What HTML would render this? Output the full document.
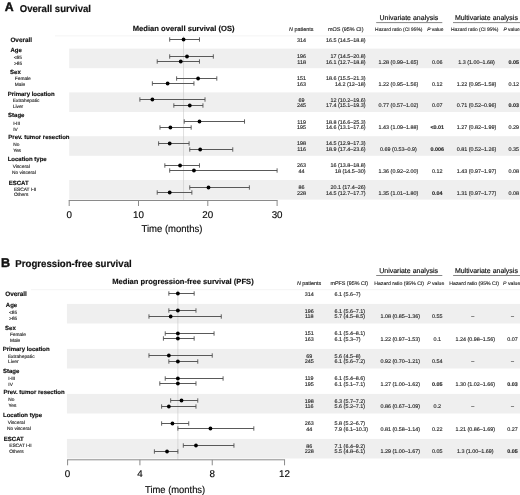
<!DOCTYPE html>
<html><head><meta charset="utf-8"><title>Forest plot</title>
<style>
html,body{margin:0;padding:0;background:#fff;}
body{width:520px;height:495px;overflow:hidden;}
svg{display:block;font-family:"Liberation Sans", sans-serif;text-rendering:geometricPrecision;}
</style></head>
<body>
<svg width="520" height="495" viewBox="0 0 520 495">
<rect x="0" y="0" width="520" height="495" fill="#fff"/>
<text x="4.70" y="10.90" font-size="12.3" font-weight="bold" fill="#111" stroke="#111" stroke-width="0.45">A</text>
<text x="19.80" y="11.60" font-size="10" font-weight="bold" fill="#111" stroke="#111" stroke-width="0.2" textLength="71.2" lengthAdjust="spacingAndGlyphs">Overall survival</text>
<rect x="69.20" y="48.60" width="450.80" height="19.60" fill="#efefef"/>
<rect x="69.20" y="92.40" width="450.80" height="19.60" fill="#efefef"/>
<rect x="69.20" y="136.20" width="450.80" height="19.60" fill="#efefef"/>
<rect x="69.20" y="180.00" width="450.80" height="19.60" fill="#efefef"/>
<line x1="55.00" y1="35.90" x2="520.00" y2="35.90" stroke="#f4f4f4" stroke-width="1"/>
<text x="132.80" y="30.50" font-size="7.6" font-weight="bold" fill="#111" stroke="#111" stroke-width="0.15">Median overall survival (OS)</text>
<line x1="183.55" y1="36.00" x2="183.55" y2="200.50" stroke="#c8c8c8" stroke-width="0.6"/>
<line x1="68.70" y1="200.50" x2="277.60" y2="200.50" stroke="#8a8a8a" stroke-width="1"/>
<line x1="69.20" y1="200.50" x2="69.20" y2="206.00" stroke="#8a8a8a" stroke-width="1"/>
<text x="69.20" y="217.70" font-size="9.8" text-anchor="middle" stroke="#222" stroke-width="0.15">0</text>
<line x1="138.50" y1="200.50" x2="138.50" y2="206.00" stroke="#8a8a8a" stroke-width="1"/>
<text x="138.50" y="217.70" font-size="9.8" text-anchor="middle" stroke="#222" stroke-width="0.15">10</text>
<line x1="207.80" y1="200.50" x2="207.80" y2="206.00" stroke="#8a8a8a" stroke-width="1"/>
<text x="207.80" y="217.70" font-size="9.8" text-anchor="middle" stroke="#222" stroke-width="0.15">20</text>
<line x1="277.10" y1="200.50" x2="277.10" y2="206.00" stroke="#8a8a8a" stroke-width="1"/>
<text x="277.10" y="217.70" font-size="9.8" text-anchor="middle" stroke="#222" stroke-width="0.15">30</text>
<text x="141.50" y="232.40" font-size="10" textLength="61.0" lengthAdjust="spacingAndGlyphs" stroke="#222" stroke-width="0.15">Time (months)</text>
<text x="289.00" y="30.60" font-size="5.45" fill="#2a2a2a" stroke="#2a2a2a" stroke-width="0.15"><tspan font-style="italic">N</tspan> patients</text>
<text x="328.10" y="30.60" font-size="5.45" fill="#2a2a2a" stroke="#2a2a2a" stroke-width="0.15">mOS (95% CI)</text>
<text x="379.50" y="20.10" font-size="7" stroke="#222" stroke-width="0.15">Univariate analysis</text>
<line x1="376.20" y1="22.60" x2="442.30" y2="22.60" stroke="#666" stroke-width="0.8"/>
<text x="454.90" y="20.10" font-size="7" stroke="#222" stroke-width="0.15">Multivariate analysis</text>
<line x1="453.00" y1="22.60" x2="520.00" y2="22.60" stroke="#666" stroke-width="0.8"/>
<text x="375.10" y="30.60" font-size="4.9" fill="#2a2a2a" stroke="#2a2a2a" stroke-width="0.15">Hazard ratio (CI 95%)</text>
<text x="427.20" y="30.60" font-size="4.9" fill="#2a2a2a" stroke="#2a2a2a" stroke-width="0.15"><tspan font-style="italic">P</tspan> value</text>
<text x="451.00" y="30.60" font-size="4.9" fill="#2a2a2a" stroke="#2a2a2a" stroke-width="0.15">Hazard ratio (CI 95%)</text>
<text x="503.50" y="30.60" font-size="4.9" fill="#2a2a2a" stroke="#2a2a2a" stroke-width="0.15"><tspan font-style="italic">P</tspan> value</text>
<text x="10.40" y="41.50" font-size="6.4" font-weight="bold" fill="#111" stroke="#111" stroke-width="0.15">Overall</text>
<line x1="169.69" y1="39.50" x2="199.48" y2="39.50" stroke="#505050" stroke-width="0.95"/>
<line x1="169.69" y1="37.30" x2="169.69" y2="41.70" stroke="#505050" stroke-width="0.9"/>
<line x1="199.48" y1="37.30" x2="199.48" y2="41.70" stroke="#505050" stroke-width="0.9"/>
<circle cx="183.55" cy="39.50" r="1.9" fill="#000"/>
<text x="301.60" y="41.60" font-size="5.4" text-anchor="middle" fill="#2a2a2a" stroke="#2a2a2a" stroke-width="0.15">314</text>
<text x="365.60" y="41.60" font-size="5.4" text-anchor="end" fill="#2a2a2a" stroke="#2a2a2a" stroke-width="0.15">16.5 (14.5–18.8)</text>
<text x="10.40" y="51.90" font-size="6.0" font-weight="bold" fill="#111" stroke="#111" stroke-width="0.15">Age</text>
<text x="13.80" y="58.80" font-size="4.8" fill="#2a2a2a" stroke="#2a2a2a" stroke-width="0.15">&lt;65</text>
<line x1="169.69" y1="56.50" x2="213.34" y2="56.50" stroke="#505050" stroke-width="0.95"/>
<line x1="169.69" y1="54.30" x2="169.69" y2="58.70" stroke="#505050" stroke-width="0.9"/>
<line x1="213.34" y1="54.30" x2="213.34" y2="58.70" stroke="#505050" stroke-width="0.9"/>
<circle cx="187.01" cy="56.50" r="1.9" fill="#000"/>
<text x="301.60" y="58.20" font-size="5.4" text-anchor="middle" fill="#2a2a2a" stroke="#2a2a2a" stroke-width="0.15">196</text>
<text x="365.60" y="58.20" font-size="5.4" text-anchor="end" fill="#2a2a2a" stroke="#2a2a2a" stroke-width="0.15">17 (14.5–20.8)</text>
<text x="14.00" y="64.80" font-size="4.8" fill="#2a2a2a" stroke="#2a2a2a" stroke-width="0.15">&gt;65</text>
<line x1="157.21" y1="61.50" x2="199.48" y2="61.50" stroke="#505050" stroke-width="0.95"/>
<line x1="157.21" y1="59.30" x2="157.21" y2="63.70" stroke="#505050" stroke-width="0.9"/>
<line x1="199.48" y1="59.30" x2="199.48" y2="63.70" stroke="#505050" stroke-width="0.9"/>
<circle cx="180.77" cy="61.50" r="1.9" fill="#000"/>
<text x="301.60" y="63.80" font-size="5.4" text-anchor="middle" fill="#2a2a2a" stroke="#2a2a2a" stroke-width="0.15">118</text>
<text x="365.60" y="63.80" font-size="5.4" text-anchor="end" fill="#2a2a2a" stroke="#2a2a2a" stroke-width="0.15">16.1 (12.7–18.8)</text>
<text x="398.40" y="63.80" font-size="5.4" text-anchor="middle" fill="#2a2a2a" stroke="#2a2a2a" stroke-width="0.15">1.28 (0.99–1.65)</text>
<text x="437.30" y="63.80" font-size="5.4" text-anchor="middle" fill="#2a2a2a" stroke="#2a2a2a" stroke-width="0.15">0.06</text>
<text x="476.50" y="63.80" font-size="5.4" text-anchor="middle" fill="#2a2a2a" stroke="#2a2a2a" stroke-width="0.15">1.3 (1.00–1.68)</text>
<text x="513.70" y="63.80" font-size="5.4" font-weight="bold" text-anchor="middle" fill="#2a2a2a" stroke="#2a2a2a" stroke-width="0.15">0.05</text>
<text x="10.10" y="74.20" font-size="6.0" font-weight="bold" fill="#111" stroke="#111" stroke-width="0.15">Sex</text>
<text x="14.80" y="80.40" font-size="4.8" fill="#2a2a2a" stroke="#2a2a2a" stroke-width="0.15">Female</text>
<line x1="176.62" y1="78.50" x2="216.81" y2="78.50" stroke="#505050" stroke-width="0.95"/>
<line x1="176.62" y1="76.30" x2="176.62" y2="80.70" stroke="#505050" stroke-width="0.9"/>
<line x1="216.81" y1="76.30" x2="216.81" y2="80.70" stroke="#505050" stroke-width="0.9"/>
<circle cx="198.10" cy="78.50" r="1.9" fill="#000"/>
<text x="301.60" y="80.00" font-size="5.4" text-anchor="middle" fill="#2a2a2a" stroke="#2a2a2a" stroke-width="0.15">151</text>
<text x="365.60" y="80.00" font-size="5.4" text-anchor="end" fill="#2a2a2a" stroke="#2a2a2a" stroke-width="0.15">18.6 (15.5–21.3)</text>
<text x="14.80" y="85.90" font-size="4.8" fill="#2a2a2a" stroke="#2a2a2a" stroke-width="0.15">Male</text>
<line x1="152.36" y1="83.50" x2="193.94" y2="83.50" stroke="#505050" stroke-width="0.95"/>
<line x1="152.36" y1="81.30" x2="152.36" y2="85.70" stroke="#505050" stroke-width="0.9"/>
<line x1="193.94" y1="81.30" x2="193.94" y2="85.70" stroke="#505050" stroke-width="0.9"/>
<circle cx="167.61" cy="83.50" r="1.9" fill="#000"/>
<text x="301.60" y="85.60" font-size="5.4" text-anchor="middle" fill="#2a2a2a" stroke="#2a2a2a" stroke-width="0.15">163</text>
<text x="365.60" y="85.60" font-size="5.4" text-anchor="end" fill="#2a2a2a" stroke="#2a2a2a" stroke-width="0.15">14.2 (12–18)</text>
<text x="398.40" y="85.60" font-size="5.4" text-anchor="middle" fill="#2a2a2a" stroke="#2a2a2a" stroke-width="0.15">1.22 (0.95–1.56)</text>
<text x="437.30" y="85.60" font-size="5.4" text-anchor="middle" fill="#2a2a2a" stroke="#2a2a2a" stroke-width="0.15">0.12</text>
<text x="476.50" y="85.60" font-size="5.4" text-anchor="middle" fill="#2a2a2a" stroke="#2a2a2a" stroke-width="0.15">1.22 (0.95–1.58)</text>
<text x="513.70" y="85.60" font-size="5.4" text-anchor="middle" fill="#2a2a2a" stroke="#2a2a2a" stroke-width="0.15">0.12</text>
<text x="7.70" y="96.00" font-size="6.0" font-weight="bold" fill="#111" stroke="#111" stroke-width="0.15">Primary location</text>
<text x="12.80" y="102.00" font-size="4.8" fill="#2a2a2a" stroke="#2a2a2a" stroke-width="0.15">Extrahepatic</text>
<line x1="139.89" y1="99.50" x2="205.03" y2="99.50" stroke="#505050" stroke-width="0.95"/>
<line x1="139.89" y1="97.30" x2="139.89" y2="101.70" stroke="#505050" stroke-width="0.9"/>
<line x1="205.03" y1="97.30" x2="205.03" y2="101.70" stroke="#505050" stroke-width="0.9"/>
<circle cx="152.36" cy="99.50" r="1.9" fill="#000"/>
<text x="301.60" y="101.80" font-size="5.4" text-anchor="middle" fill="#2a2a2a" stroke="#2a2a2a" stroke-width="0.15">69</text>
<text x="365.60" y="101.80" font-size="5.4" text-anchor="end" fill="#2a2a2a" stroke="#2a2a2a" stroke-width="0.15">12 (10.2–19.6)</text>
<text x="12.80" y="108.00" font-size="4.8" fill="#2a2a2a" stroke="#2a2a2a" stroke-width="0.15">Liver</text>
<line x1="173.84" y1="105.50" x2="202.95" y2="105.50" stroke="#505050" stroke-width="0.95"/>
<line x1="173.84" y1="103.30" x2="173.84" y2="107.70" stroke="#505050" stroke-width="0.9"/>
<line x1="202.95" y1="103.30" x2="202.95" y2="107.70" stroke="#505050" stroke-width="0.9"/>
<circle cx="189.78" cy="105.50" r="1.9" fill="#000"/>
<text x="301.60" y="107.40" font-size="5.4" text-anchor="middle" fill="#2a2a2a" stroke="#2a2a2a" stroke-width="0.15">245</text>
<text x="365.60" y="107.40" font-size="5.4" text-anchor="end" fill="#2a2a2a" stroke="#2a2a2a" stroke-width="0.15">17.4 (15.1–19.3)</text>
<text x="398.40" y="107.40" font-size="5.4" text-anchor="middle" fill="#2a2a2a" stroke="#2a2a2a" stroke-width="0.15">0.77 (0.57–1.02)</text>
<text x="437.30" y="107.40" font-size="5.4" text-anchor="middle" fill="#2a2a2a" stroke="#2a2a2a" stroke-width="0.15">0.07</text>
<text x="476.50" y="107.40" font-size="5.4" text-anchor="middle" fill="#2a2a2a" stroke="#2a2a2a" stroke-width="0.15">0.71 (0.52–0.96)</text>
<text x="513.70" y="107.40" font-size="5.4" font-weight="bold" text-anchor="middle" fill="#2a2a2a" stroke="#2a2a2a" stroke-width="0.15">0.03</text>
<text x="8.10" y="117.40" font-size="6.0" font-weight="bold" fill="#111" stroke="#111" stroke-width="0.15">Stage</text>
<text x="13.20" y="124.50" font-size="4.8" fill="#2a2a2a" stroke="#2a2a2a" stroke-width="0.15">I-III</text>
<line x1="184.24" y1="121.50" x2="244.53" y2="121.50" stroke="#505050" stroke-width="0.95"/>
<line x1="184.24" y1="119.30" x2="184.24" y2="123.70" stroke="#505050" stroke-width="0.9"/>
<line x1="244.53" y1="119.30" x2="244.53" y2="123.70" stroke="#505050" stroke-width="0.9"/>
<circle cx="199.48" cy="121.50" r="1.9" fill="#000"/>
<text x="301.60" y="123.60" font-size="5.4" text-anchor="middle" fill="#2a2a2a" stroke="#2a2a2a" stroke-width="0.15">119</text>
<text x="365.60" y="123.60" font-size="5.4" text-anchor="end" fill="#2a2a2a" stroke="#2a2a2a" stroke-width="0.15">18.8 (16.6–25.3)</text>
<text x="13.20" y="130.50" font-size="4.8" fill="#2a2a2a" stroke="#2a2a2a" stroke-width="0.15">IV</text>
<line x1="159.98" y1="127.50" x2="191.17" y2="127.50" stroke="#505050" stroke-width="0.95"/>
<line x1="159.98" y1="125.30" x2="159.98" y2="129.70" stroke="#505050" stroke-width="0.9"/>
<line x1="191.17" y1="125.30" x2="191.17" y2="129.70" stroke="#505050" stroke-width="0.9"/>
<circle cx="170.38" cy="127.50" r="1.9" fill="#000"/>
<text x="301.60" y="129.20" font-size="5.4" text-anchor="middle" fill="#2a2a2a" stroke="#2a2a2a" stroke-width="0.15">195</text>
<text x="365.60" y="129.20" font-size="5.4" text-anchor="end" fill="#2a2a2a" stroke="#2a2a2a" stroke-width="0.15">14.6 (13.1–17.6)</text>
<text x="398.40" y="129.20" font-size="5.4" text-anchor="middle" fill="#2a2a2a" stroke="#2a2a2a" stroke-width="0.15">1.43 (1.09–1.88)</text>
<text x="437.30" y="129.20" font-size="5.4" font-weight="bold" text-anchor="middle" fill="#2a2a2a" stroke="#2a2a2a" stroke-width="0.15">&lt;0.01</text>
<text x="476.50" y="129.20" font-size="5.4" text-anchor="middle" fill="#2a2a2a" stroke="#2a2a2a" stroke-width="0.15">1.27 (0.82–1.99)</text>
<text x="513.70" y="129.20" font-size="5.4" text-anchor="middle" fill="#2a2a2a" stroke="#2a2a2a" stroke-width="0.15">0.29</text>
<text x="8.30" y="138.90" font-size="6.0" font-weight="bold" fill="#111" stroke="#111" stroke-width="0.15">Prev. tumor resection</text>
<text x="13.20" y="146.00" font-size="4.8" fill="#2a2a2a" stroke="#2a2a2a" stroke-width="0.15">No</text>
<line x1="158.60" y1="143.50" x2="189.09" y2="143.50" stroke="#505050" stroke-width="0.95"/>
<line x1="158.60" y1="141.30" x2="158.60" y2="145.70" stroke="#505050" stroke-width="0.9"/>
<line x1="189.09" y1="141.30" x2="189.09" y2="145.70" stroke="#505050" stroke-width="0.9"/>
<circle cx="169.69" cy="143.50" r="1.9" fill="#000"/>
<text x="301.60" y="145.40" font-size="5.4" text-anchor="middle" fill="#2a2a2a" stroke="#2a2a2a" stroke-width="0.15">198</text>
<text x="365.60" y="145.40" font-size="5.4" text-anchor="end" fill="#2a2a2a" stroke="#2a2a2a" stroke-width="0.15">14.5 (12.9–17.3)</text>
<text x="13.20" y="151.80" font-size="4.8" fill="#2a2a2a" stroke="#2a2a2a" stroke-width="0.15">Yes</text>
<line x1="189.78" y1="149.50" x2="232.75" y2="149.50" stroke="#505050" stroke-width="0.95"/>
<line x1="189.78" y1="147.30" x2="189.78" y2="151.70" stroke="#505050" stroke-width="0.9"/>
<line x1="232.75" y1="147.30" x2="232.75" y2="151.70" stroke="#505050" stroke-width="0.9"/>
<circle cx="200.18" cy="149.50" r="1.9" fill="#000"/>
<text x="301.60" y="151.00" font-size="5.4" text-anchor="middle" fill="#2a2a2a" stroke="#2a2a2a" stroke-width="0.15">116</text>
<text x="365.60" y="151.00" font-size="5.4" text-anchor="end" fill="#2a2a2a" stroke="#2a2a2a" stroke-width="0.15">18.9 (17.4–23.6)</text>
<text x="398.40" y="151.00" font-size="5.4" text-anchor="middle" fill="#2a2a2a" stroke="#2a2a2a" stroke-width="0.15">0.69 (0.53–0.9)</text>
<text x="437.30" y="151.00" font-size="5.4" font-weight="bold" text-anchor="middle" fill="#2a2a2a" stroke="#2a2a2a" stroke-width="0.15">0.006</text>
<text x="476.50" y="151.00" font-size="5.4" text-anchor="middle" fill="#2a2a2a" stroke="#2a2a2a" stroke-width="0.15">0.81 (0.52–1.26)</text>
<text x="513.70" y="151.00" font-size="5.4" text-anchor="middle" fill="#2a2a2a" stroke="#2a2a2a" stroke-width="0.15">0.35</text>
<text x="7.70" y="161.40" font-size="6.0" font-weight="bold" fill="#111" stroke="#111" stroke-width="0.15">Location type</text>
<text x="12.80" y="168.30" font-size="4.8" fill="#2a2a2a" stroke="#2a2a2a" stroke-width="0.15">Visceral</text>
<line x1="164.83" y1="165.50" x2="199.48" y2="165.50" stroke="#505050" stroke-width="0.95"/>
<line x1="164.83" y1="163.30" x2="164.83" y2="167.70" stroke="#505050" stroke-width="0.9"/>
<line x1="199.48" y1="163.30" x2="199.48" y2="167.70" stroke="#505050" stroke-width="0.9"/>
<circle cx="180.08" cy="165.50" r="1.9" fill="#000"/>
<text x="301.60" y="167.20" font-size="5.4" text-anchor="middle" fill="#2a2a2a" stroke="#2a2a2a" stroke-width="0.15">263</text>
<text x="365.60" y="167.20" font-size="5.4" text-anchor="end" fill="#2a2a2a" stroke="#2a2a2a" stroke-width="0.15">16 (13.8–18.8)</text>
<text x="12.10" y="174.30" font-size="4.8" fill="#2a2a2a" stroke="#2a2a2a" stroke-width="0.15">No visceral</text>
<line x1="169.69" y1="170.50" x2="277.10" y2="170.50" stroke="#505050" stroke-width="0.95"/>
<line x1="169.69" y1="168.30" x2="169.69" y2="172.70" stroke="#505050" stroke-width="0.9"/>
<line x1="277.10" y1="168.30" x2="277.10" y2="172.70" stroke="#505050" stroke-width="0.9"/>
<circle cx="193.94" cy="170.50" r="1.9" fill="#000"/>
<text x="301.60" y="172.80" font-size="5.4" text-anchor="middle" fill="#2a2a2a" stroke="#2a2a2a" stroke-width="0.15">44</text>
<text x="365.60" y="172.80" font-size="5.4" text-anchor="end" fill="#2a2a2a" stroke="#2a2a2a" stroke-width="0.15">18 (14.5–30)</text>
<text x="398.40" y="172.80" font-size="5.4" text-anchor="middle" fill="#2a2a2a" stroke="#2a2a2a" stroke-width="0.15">1.36 (0.92–2.00)</text>
<text x="437.30" y="172.80" font-size="5.4" text-anchor="middle" fill="#2a2a2a" stroke="#2a2a2a" stroke-width="0.15">0.12</text>
<text x="476.50" y="172.80" font-size="5.4" text-anchor="middle" fill="#2a2a2a" stroke="#2a2a2a" stroke-width="0.15">1.43 (0.97–1.97)</text>
<text x="513.70" y="172.80" font-size="5.4" text-anchor="middle" fill="#2a2a2a" stroke="#2a2a2a" stroke-width="0.15">0.08</text>
<text x="8.70" y="185.00" font-size="6.0" font-weight="bold" fill="#111" stroke="#111" stroke-width="0.15">ESCAT</text>
<text x="13.90" y="190.70" font-size="4.8" fill="#2a2a2a" stroke="#2a2a2a" stroke-width="0.15">ESCAT I-II</text>
<line x1="189.78" y1="187.50" x2="249.38" y2="187.50" stroke="#505050" stroke-width="0.95"/>
<line x1="189.78" y1="185.30" x2="189.78" y2="189.70" stroke="#505050" stroke-width="0.9"/>
<line x1="249.38" y1="185.30" x2="249.38" y2="189.70" stroke="#505050" stroke-width="0.9"/>
<circle cx="208.49" cy="187.50" r="1.9" fill="#000"/>
<text x="301.60" y="189.00" font-size="5.4" text-anchor="middle" fill="#2a2a2a" stroke="#2a2a2a" stroke-width="0.15">86</text>
<text x="365.60" y="189.00" font-size="5.4" text-anchor="end" fill="#2a2a2a" stroke="#2a2a2a" stroke-width="0.15">20.1 (17.4–26)</text>
<text x="13.90" y="196.10" font-size="4.8" fill="#2a2a2a" stroke="#2a2a2a" stroke-width="0.15">Others</text>
<line x1="157.21" y1="192.50" x2="191.86" y2="192.50" stroke="#505050" stroke-width="0.95"/>
<line x1="157.21" y1="190.30" x2="157.21" y2="194.70" stroke="#505050" stroke-width="0.9"/>
<line x1="191.86" y1="190.30" x2="191.86" y2="194.70" stroke="#505050" stroke-width="0.9"/>
<circle cx="169.69" cy="192.50" r="1.9" fill="#000"/>
<text x="301.60" y="194.60" font-size="5.4" text-anchor="middle" fill="#2a2a2a" stroke="#2a2a2a" stroke-width="0.15">228</text>
<text x="365.60" y="194.60" font-size="5.4" text-anchor="end" fill="#2a2a2a" stroke="#2a2a2a" stroke-width="0.15">14.5 (12.7–17.7)</text>
<text x="398.40" y="194.60" font-size="5.4" text-anchor="middle" fill="#2a2a2a" stroke="#2a2a2a" stroke-width="0.15">1.35 (1.01–1.80)</text>
<text x="437.30" y="194.60" font-size="5.4" font-weight="bold" text-anchor="middle" fill="#2a2a2a" stroke="#2a2a2a" stroke-width="0.15">0.04</text>
<text x="476.50" y="194.60" font-size="5.4" text-anchor="middle" fill="#2a2a2a" stroke="#2a2a2a" stroke-width="0.15">1.31 (0.97–1.77)</text>
<text x="513.70" y="194.60" font-size="5.4" text-anchor="middle" fill="#2a2a2a" stroke="#2a2a2a" stroke-width="0.15">0.08</text>
<text x="0.90" y="267.10" font-size="12.6" font-weight="bold" fill="#111" stroke="#111" stroke-width="0.45">B</text>
<text x="15.30" y="267.30" font-size="10" font-weight="bold" fill="#111" stroke="#111" stroke-width="0.2" textLength="116.4" lengthAdjust="spacingAndGlyphs">Progression-free survival</text>
<rect x="66.90" y="303.90" width="453.10" height="19.60" fill="#efefef"/>
<rect x="66.90" y="348.90" width="453.10" height="19.60" fill="#efefef"/>
<rect x="66.90" y="393.90" width="453.10" height="19.60" fill="#efefef"/>
<rect x="66.90" y="438.90" width="453.10" height="19.60" fill="#efefef"/>
<line x1="31.00" y1="289.70" x2="520.00" y2="289.70" stroke="#f4f4f4" stroke-width="1"/>
<text x="112.30" y="283.80" font-size="7.6" font-weight="bold" fill="#111" stroke="#111" stroke-width="0.15">Median progression-free survival (PFS)</text>
<line x1="177.89" y1="290.00" x2="177.89" y2="459.80" stroke="#c8c8c8" stroke-width="0.6"/>
<line x1="67.10" y1="459.80" x2="285.06" y2="459.80" stroke="#8a8a8a" stroke-width="1"/>
<line x1="67.60" y1="459.80" x2="67.60" y2="465.30" stroke="#8a8a8a" stroke-width="1"/>
<text x="67.60" y="477.00" font-size="9.8" text-anchor="middle" stroke="#222" stroke-width="0.15">0</text>
<line x1="139.92" y1="459.80" x2="139.92" y2="465.30" stroke="#8a8a8a" stroke-width="1"/>
<text x="139.92" y="477.00" font-size="9.8" text-anchor="middle" stroke="#222" stroke-width="0.15">4</text>
<line x1="212.24" y1="459.80" x2="212.24" y2="465.30" stroke="#8a8a8a" stroke-width="1"/>
<text x="212.24" y="477.00" font-size="9.8" text-anchor="middle" stroke="#222" stroke-width="0.15">8</text>
<line x1="284.56" y1="459.80" x2="284.56" y2="465.30" stroke="#8a8a8a" stroke-width="1"/>
<text x="284.56" y="477.00" font-size="9.8" text-anchor="middle" stroke="#222" stroke-width="0.15">12</text>
<text x="145.00" y="492.80" font-size="10" textLength="60.2" lengthAdjust="spacingAndGlyphs" stroke="#222" stroke-width="0.15">Time (months)</text>
<text x="296.90" y="284.60" font-size="5.4" fill="#2a2a2a" stroke="#2a2a2a" stroke-width="0.15"><tspan font-style="italic">N</tspan> patients</text>
<text x="330.40" y="284.60" font-size="5.4" fill="#2a2a2a" stroke="#2a2a2a" stroke-width="0.15">mPFS (95% CI)</text>
<text x="379.20" y="272.80" font-size="7" stroke="#222" stroke-width="0.15">Univariate analysis</text>
<line x1="376.20" y1="275.50" x2="442.30" y2="275.50" stroke="#666" stroke-width="0.8"/>
<text x="454.90" y="272.80" font-size="7" stroke="#222" stroke-width="0.15">Multivariate analysis</text>
<line x1="453.10" y1="275.50" x2="520.00" y2="275.50" stroke="#666" stroke-width="0.8"/>
<text x="374.30" y="284.60" font-size="5.15" fill="#2a2a2a" stroke="#2a2a2a" stroke-width="0.15">Hazard ratio (95% CI)</text>
<text x="427.20" y="284.60" font-size="5.15" fill="#2a2a2a" stroke="#2a2a2a" stroke-width="0.15"><tspan font-style="italic">P</tspan> value</text>
<text x="449.20" y="284.60" font-size="5.15" fill="#2a2a2a" stroke="#2a2a2a" stroke-width="0.15">Hazard ratio (95% CI)</text>
<text x="503.10" y="284.60" font-size="5.15" fill="#2a2a2a" stroke="#2a2a2a" stroke-width="0.15"><tspan font-style="italic">P</tspan> value</text>
<text x="5.20" y="295.60" font-size="6.4" font-weight="bold" fill="#111" stroke="#111" stroke-width="0.15">Overall</text>
<line x1="168.85" y1="293.50" x2="194.16" y2="293.50" stroke="#505050" stroke-width="0.95"/>
<line x1="168.85" y1="291.30" x2="168.85" y2="295.70" stroke="#505050" stroke-width="0.9"/>
<line x1="194.16" y1="291.30" x2="194.16" y2="295.70" stroke="#505050" stroke-width="0.9"/>
<circle cx="177.89" cy="293.50" r="1.9" fill="#000"/>
<text x="309.30" y="295.80" font-size="5.4" text-anchor="middle" fill="#2a2a2a" stroke="#2a2a2a" stroke-width="0.15">314</text>
<text x="334.60" y="295.80" font-size="5.4" fill="#2a2a2a" stroke="#2a2a2a" stroke-width="0.15">6.1 (5.6–7)</text>
<text x="5.80" y="307.10" font-size="6.0" font-weight="bold" fill="#111" stroke="#111" stroke-width="0.15">Age</text>
<text x="9.00" y="314.20" font-size="4.8" fill="#2a2a2a" stroke="#2a2a2a" stroke-width="0.15">&lt;65</text>
<line x1="168.85" y1="310.50" x2="195.97" y2="310.50" stroke="#505050" stroke-width="0.95"/>
<line x1="168.85" y1="308.30" x2="168.85" y2="312.70" stroke="#505050" stroke-width="0.9"/>
<line x1="195.97" y1="308.30" x2="195.97" y2="312.70" stroke="#505050" stroke-width="0.9"/>
<circle cx="177.89" cy="310.50" r="1.9" fill="#000"/>
<text x="309.30" y="312.70" font-size="5.4" text-anchor="middle" fill="#2a2a2a" stroke="#2a2a2a" stroke-width="0.15">196</text>
<text x="334.60" y="312.70" font-size="5.4" fill="#2a2a2a" stroke="#2a2a2a" stroke-width="0.15">6.1 (5.6–7.1)</text>
<text x="9.10" y="320.10" font-size="4.8" fill="#2a2a2a" stroke="#2a2a2a" stroke-width="0.15">&gt;65</text>
<line x1="148.96" y1="316.50" x2="221.28" y2="316.50" stroke="#505050" stroke-width="0.95"/>
<line x1="148.96" y1="314.30" x2="148.96" y2="318.70" stroke="#505050" stroke-width="0.9"/>
<line x1="221.28" y1="314.30" x2="221.28" y2="318.70" stroke="#505050" stroke-width="0.9"/>
<circle cx="170.66" cy="316.50" r="1.9" fill="#000"/>
<text x="309.30" y="318.30" font-size="5.4" text-anchor="middle" fill="#2a2a2a" stroke="#2a2a2a" stroke-width="0.15">118</text>
<text x="334.60" y="318.30" font-size="5.4" fill="#2a2a2a" stroke="#2a2a2a" stroke-width="0.15">5.7 (4.5–8.5)</text>
<text x="400.20" y="318.30" font-size="5.4" text-anchor="middle" fill="#2a2a2a" stroke="#2a2a2a" stroke-width="0.15">1.08 (0.85–1.36)</text>
<text x="437.30" y="318.30" font-size="5.4" text-anchor="middle" fill="#2a2a2a" stroke="#2a2a2a" stroke-width="0.15">0.55</text>
<text x="472.70" y="318.30" font-size="5.4" text-anchor="middle" fill="#2a2a2a" stroke="#2a2a2a" stroke-width="0.15">–</text>
<text x="512.50" y="318.30" font-size="5.4" text-anchor="middle" fill="#2a2a2a" stroke="#2a2a2a" stroke-width="0.15">–</text>
<text x="5.10" y="329.50" font-size="6.0" font-weight="bold" fill="#111" stroke="#111" stroke-width="0.15">Sex</text>
<text x="9.90" y="335.90" font-size="4.8" fill="#2a2a2a" stroke="#2a2a2a" stroke-width="0.15">Female</text>
<line x1="165.23" y1="333.50" x2="214.05" y2="333.50" stroke="#505050" stroke-width="0.95"/>
<line x1="165.23" y1="331.30" x2="165.23" y2="335.70" stroke="#505050" stroke-width="0.9"/>
<line x1="214.05" y1="331.30" x2="214.05" y2="335.70" stroke="#505050" stroke-width="0.9"/>
<circle cx="177.89" cy="333.50" r="1.9" fill="#000"/>
<text x="309.30" y="335.20" font-size="5.4" text-anchor="middle" fill="#2a2a2a" stroke="#2a2a2a" stroke-width="0.15">151</text>
<text x="334.60" y="335.20" font-size="5.4" fill="#2a2a2a" stroke="#2a2a2a" stroke-width="0.15">6.1 (5.4–8.1)</text>
<text x="9.90" y="341.80" font-size="4.8" fill="#2a2a2a" stroke="#2a2a2a" stroke-width="0.15">Male</text>
<line x1="163.42" y1="338.50" x2="194.16" y2="338.50" stroke="#505050" stroke-width="0.95"/>
<line x1="163.42" y1="336.30" x2="163.42" y2="340.70" stroke="#505050" stroke-width="0.9"/>
<line x1="194.16" y1="336.30" x2="194.16" y2="340.70" stroke="#505050" stroke-width="0.9"/>
<circle cx="177.89" cy="338.50" r="1.9" fill="#000"/>
<text x="309.30" y="340.80" font-size="5.4" text-anchor="middle" fill="#2a2a2a" stroke="#2a2a2a" stroke-width="0.15">163</text>
<text x="334.60" y="340.80" font-size="5.4" fill="#2a2a2a" stroke="#2a2a2a" stroke-width="0.15">6.1 (5.3–7)</text>
<text x="400.20" y="340.80" font-size="5.4" text-anchor="middle" fill="#2a2a2a" stroke="#2a2a2a" stroke-width="0.15">1.22 (0.97–1.53)</text>
<text x="437.30" y="340.80" font-size="5.4" text-anchor="middle" fill="#2a2a2a" stroke="#2a2a2a" stroke-width="0.15">0.1</text>
<text x="475.20" y="340.80" font-size="5.4" text-anchor="middle" fill="#2a2a2a" stroke="#2a2a2a" stroke-width="0.15">1.24 (0.98–1.56)</text>
<text x="512.50" y="340.80" font-size="5.4" text-anchor="middle" fill="#2a2a2a" stroke="#2a2a2a" stroke-width="0.15">0.07</text>
<text x="2.70" y="351.40" font-size="6.0" font-weight="bold" fill="#111" stroke="#111" stroke-width="0.15">Primary location</text>
<text x="7.90" y="357.70" font-size="4.8" fill="#2a2a2a" stroke="#2a2a2a" stroke-width="0.15">Extrahepatic</text>
<line x1="148.96" y1="355.50" x2="212.24" y2="355.50" stroke="#505050" stroke-width="0.95"/>
<line x1="148.96" y1="353.30" x2="148.96" y2="357.70" stroke="#505050" stroke-width="0.9"/>
<line x1="212.24" y1="353.30" x2="212.24" y2="357.70" stroke="#505050" stroke-width="0.9"/>
<circle cx="168.85" cy="355.50" r="1.9" fill="#000"/>
<text x="309.30" y="357.70" font-size="5.4" text-anchor="middle" fill="#2a2a2a" stroke="#2a2a2a" stroke-width="0.15">69</text>
<text x="334.60" y="357.70" font-size="5.4" fill="#2a2a2a" stroke="#2a2a2a" stroke-width="0.15">5.6 (4.5–8)</text>
<text x="8.10" y="363.40" font-size="4.8" fill="#2a2a2a" stroke="#2a2a2a" stroke-width="0.15">Liver</text>
<line x1="168.85" y1="361.50" x2="197.78" y2="361.50" stroke="#505050" stroke-width="0.95"/>
<line x1="168.85" y1="359.30" x2="168.85" y2="363.70" stroke="#505050" stroke-width="0.9"/>
<line x1="197.78" y1="359.30" x2="197.78" y2="363.70" stroke="#505050" stroke-width="0.9"/>
<circle cx="177.89" cy="361.50" r="1.9" fill="#000"/>
<text x="309.30" y="363.30" font-size="5.4" text-anchor="middle" fill="#2a2a2a" stroke="#2a2a2a" stroke-width="0.15">245</text>
<text x="334.60" y="363.30" font-size="5.4" fill="#2a2a2a" stroke="#2a2a2a" stroke-width="0.15">6.1 (5.6–7.2)</text>
<text x="400.20" y="363.30" font-size="5.4" text-anchor="middle" fill="#2a2a2a" stroke="#2a2a2a" stroke-width="0.15">0.92 (0.70–1.21)</text>
<text x="437.30" y="363.30" font-size="5.4" text-anchor="middle" fill="#2a2a2a" stroke="#2a2a2a" stroke-width="0.15">0.54</text>
<text x="472.70" y="363.30" font-size="5.4" text-anchor="middle" fill="#2a2a2a" stroke="#2a2a2a" stroke-width="0.15">–</text>
<text x="512.50" y="363.30" font-size="5.4" text-anchor="middle" fill="#2a2a2a" stroke="#2a2a2a" stroke-width="0.15">–</text>
<text x="3.00" y="372.90" font-size="6.0" font-weight="bold" fill="#111" stroke="#111" stroke-width="0.15">Stage</text>
<text x="8.30" y="379.80" font-size="4.8" fill="#2a2a2a" stroke="#2a2a2a" stroke-width="0.15">I-III</text>
<line x1="165.23" y1="378.50" x2="223.09" y2="378.50" stroke="#505050" stroke-width="0.95"/>
<line x1="165.23" y1="376.30" x2="165.23" y2="380.70" stroke="#505050" stroke-width="0.9"/>
<line x1="223.09" y1="376.30" x2="223.09" y2="380.70" stroke="#505050" stroke-width="0.9"/>
<circle cx="177.89" cy="378.50" r="1.9" fill="#000"/>
<text x="309.30" y="380.20" font-size="5.4" text-anchor="middle" fill="#2a2a2a" stroke="#2a2a2a" stroke-width="0.15">119</text>
<text x="334.60" y="380.20" font-size="5.4" fill="#2a2a2a" stroke="#2a2a2a" stroke-width="0.15">6.1 (5.4–8.6)</text>
<text x="8.30" y="385.90" font-size="4.8" fill="#2a2a2a" stroke="#2a2a2a" stroke-width="0.15">IV</text>
<line x1="159.81" y1="383.50" x2="195.97" y2="383.50" stroke="#505050" stroke-width="0.95"/>
<line x1="159.81" y1="381.30" x2="159.81" y2="385.70" stroke="#505050" stroke-width="0.9"/>
<line x1="195.97" y1="381.30" x2="195.97" y2="385.70" stroke="#505050" stroke-width="0.9"/>
<circle cx="177.89" cy="383.50" r="1.9" fill="#000"/>
<text x="309.30" y="385.80" font-size="5.4" text-anchor="middle" fill="#2a2a2a" stroke="#2a2a2a" stroke-width="0.15">195</text>
<text x="334.60" y="385.80" font-size="5.4" fill="#2a2a2a" stroke="#2a2a2a" stroke-width="0.15">6.1 (5.1–7.1)</text>
<text x="400.20" y="385.80" font-size="5.4" text-anchor="middle" fill="#2a2a2a" stroke="#2a2a2a" stroke-width="0.15">1.27 (1.00–1.62)</text>
<text x="437.30" y="385.80" font-size="5.4" font-weight="bold" text-anchor="middle" fill="#2a2a2a" stroke="#2a2a2a" stroke-width="0.15">0.05</text>
<text x="475.20" y="385.80" font-size="5.4" text-anchor="middle" fill="#2a2a2a" stroke="#2a2a2a" stroke-width="0.15">1.30 (1.02–1.66)</text>
<text x="512.50" y="385.80" font-size="5.4" font-weight="bold" text-anchor="middle" fill="#2a2a2a" stroke="#2a2a2a" stroke-width="0.15">0.03</text>
<text x="3.40" y="394.30" font-size="6.0" font-weight="bold" fill="#111" stroke="#111" stroke-width="0.15">Prev. tumor resection</text>
<text x="8.30" y="401.00" font-size="4.8" fill="#2a2a2a" stroke="#2a2a2a" stroke-width="0.15">No</text>
<line x1="170.66" y1="400.50" x2="197.78" y2="400.50" stroke="#505050" stroke-width="0.95"/>
<line x1="170.66" y1="398.30" x2="170.66" y2="402.70" stroke="#505050" stroke-width="0.9"/>
<line x1="197.78" y1="398.30" x2="197.78" y2="402.70" stroke="#505050" stroke-width="0.9"/>
<circle cx="181.50" cy="400.50" r="1.9" fill="#000"/>
<text x="309.30" y="402.70" font-size="5.4" text-anchor="middle" fill="#2a2a2a" stroke="#2a2a2a" stroke-width="0.15">198</text>
<text x="334.60" y="402.70" font-size="5.4" fill="#2a2a2a" stroke="#2a2a2a" stroke-width="0.15">6.3 (5.7–7.2)</text>
<text x="8.60" y="407.10" font-size="4.8" fill="#2a2a2a" stroke="#2a2a2a" stroke-width="0.15">Yes</text>
<line x1="161.62" y1="406.50" x2="195.97" y2="406.50" stroke="#505050" stroke-width="0.95"/>
<line x1="161.62" y1="404.30" x2="161.62" y2="408.70" stroke="#505050" stroke-width="0.9"/>
<line x1="195.97" y1="404.30" x2="195.97" y2="408.70" stroke="#505050" stroke-width="0.9"/>
<circle cx="168.85" cy="406.50" r="1.9" fill="#000"/>
<text x="309.30" y="408.30" font-size="5.4" text-anchor="middle" fill="#2a2a2a" stroke="#2a2a2a" stroke-width="0.15">116</text>
<text x="334.60" y="408.30" font-size="5.4" fill="#2a2a2a" stroke="#2a2a2a" stroke-width="0.15">5.6 (5.2–7.1)</text>
<text x="400.20" y="408.30" font-size="5.4" text-anchor="middle" fill="#2a2a2a" stroke="#2a2a2a" stroke-width="0.15">0.86 (0.67–1.09)</text>
<text x="437.30" y="408.30" font-size="5.4" text-anchor="middle" fill="#2a2a2a" stroke="#2a2a2a" stroke-width="0.15">0.2</text>
<text x="472.70" y="408.30" font-size="5.4" text-anchor="middle" fill="#2a2a2a" stroke="#2a2a2a" stroke-width="0.15">–</text>
<text x="512.50" y="408.30" font-size="5.4" text-anchor="middle" fill="#2a2a2a" stroke="#2a2a2a" stroke-width="0.15">–</text>
<text x="3.00" y="417.10" font-size="6.0" font-weight="bold" fill="#111" stroke="#111" stroke-width="0.15">Location type</text>
<text x="7.80" y="423.80" font-size="4.8" fill="#2a2a2a" stroke="#2a2a2a" stroke-width="0.15">Visceral</text>
<line x1="161.62" y1="423.50" x2="188.74" y2="423.50" stroke="#505050" stroke-width="0.95"/>
<line x1="161.62" y1="421.30" x2="161.62" y2="425.70" stroke="#505050" stroke-width="0.9"/>
<line x1="188.74" y1="421.30" x2="188.74" y2="425.70" stroke="#505050" stroke-width="0.9"/>
<circle cx="172.46" cy="423.50" r="1.9" fill="#000"/>
<text x="309.30" y="425.20" font-size="5.4" text-anchor="middle" fill="#2a2a2a" stroke="#2a2a2a" stroke-width="0.15">263</text>
<text x="334.60" y="425.20" font-size="5.4" fill="#2a2a2a" stroke="#2a2a2a" stroke-width="0.15">5.8 (5.2–6.7)</text>
<text x="7.00" y="429.80" font-size="4.8" fill="#2a2a2a" stroke="#2a2a2a" stroke-width="0.15">No visceral</text>
<line x1="177.89" y1="428.50" x2="253.82" y2="428.50" stroke="#505050" stroke-width="0.95"/>
<line x1="177.89" y1="426.30" x2="177.89" y2="430.70" stroke="#505050" stroke-width="0.9"/>
<line x1="253.82" y1="426.30" x2="253.82" y2="430.70" stroke="#505050" stroke-width="0.9"/>
<circle cx="210.43" cy="428.50" r="1.9" fill="#000"/>
<text x="309.30" y="430.80" font-size="5.4" text-anchor="middle" fill="#2a2a2a" stroke="#2a2a2a" stroke-width="0.15">44</text>
<text x="334.60" y="430.80" font-size="5.4" fill="#2a2a2a" stroke="#2a2a2a" stroke-width="0.15">7.9 (6.1–10.3)</text>
<text x="400.20" y="430.80" font-size="5.4" text-anchor="middle" fill="#2a2a2a" stroke="#2a2a2a" stroke-width="0.15">0.81 (0.58–1.14)</text>
<text x="437.30" y="430.80" font-size="5.4" text-anchor="middle" fill="#2a2a2a" stroke="#2a2a2a" stroke-width="0.15">0.22</text>
<text x="475.20" y="430.80" font-size="5.4" text-anchor="middle" fill="#2a2a2a" stroke="#2a2a2a" stroke-width="0.15">1.21 (0.86–1.69)</text>
<text x="512.50" y="430.80" font-size="5.4" text-anchor="middle" fill="#2a2a2a" stroke="#2a2a2a" stroke-width="0.15">0.27</text>
<text x="3.80" y="440.70" font-size="6.0" font-weight="bold" fill="#111" stroke="#111" stroke-width="0.15">ESCAT</text>
<text x="9.20" y="447.10" font-size="4.8" fill="#2a2a2a" stroke="#2a2a2a" stroke-width="0.15">ESCAT I-II</text>
<line x1="183.31" y1="445.50" x2="233.94" y2="445.50" stroke="#505050" stroke-width="0.95"/>
<line x1="183.31" y1="443.30" x2="183.31" y2="447.70" stroke="#505050" stroke-width="0.9"/>
<line x1="233.94" y1="443.30" x2="233.94" y2="447.70" stroke="#505050" stroke-width="0.9"/>
<circle cx="195.97" cy="445.50" r="1.9" fill="#000"/>
<text x="309.30" y="447.70" font-size="5.4" text-anchor="middle" fill="#2a2a2a" stroke="#2a2a2a" stroke-width="0.15">86</text>
<text x="334.60" y="447.70" font-size="5.4" fill="#2a2a2a" stroke="#2a2a2a" stroke-width="0.15">7.1 (6.4–9.2)</text>
<text x="9.20" y="453.10" font-size="4.8" fill="#2a2a2a" stroke="#2a2a2a" stroke-width="0.15">Others</text>
<line x1="154.38" y1="451.50" x2="177.89" y2="451.50" stroke="#505050" stroke-width="0.95"/>
<line x1="154.38" y1="449.30" x2="154.38" y2="453.70" stroke="#505050" stroke-width="0.9"/>
<line x1="177.89" y1="449.30" x2="177.89" y2="453.70" stroke="#505050" stroke-width="0.9"/>
<circle cx="167.04" cy="451.50" r="1.9" fill="#000"/>
<text x="309.30" y="453.30" font-size="5.4" text-anchor="middle" fill="#2a2a2a" stroke="#2a2a2a" stroke-width="0.15">228</text>
<text x="334.60" y="453.30" font-size="5.4" fill="#2a2a2a" stroke="#2a2a2a" stroke-width="0.15">5.5 (4.8–6.1)</text>
<text x="400.20" y="453.30" font-size="5.4" text-anchor="middle" fill="#2a2a2a" stroke="#2a2a2a" stroke-width="0.15">1.29 (1.00–1.67)</text>
<text x="437.30" y="453.30" font-size="5.4" text-anchor="middle" fill="#2a2a2a" stroke="#2a2a2a" stroke-width="0.15">0.05</text>
<text x="475.20" y="453.30" font-size="5.4" text-anchor="middle" fill="#2a2a2a" stroke="#2a2a2a" stroke-width="0.15">1.3 (1.00–1.69)</text>
<text x="512.50" y="453.30" font-size="5.4" font-weight="bold" text-anchor="middle" fill="#2a2a2a" stroke="#2a2a2a" stroke-width="0.15">0.05</text>
</svg>
</body></html>
